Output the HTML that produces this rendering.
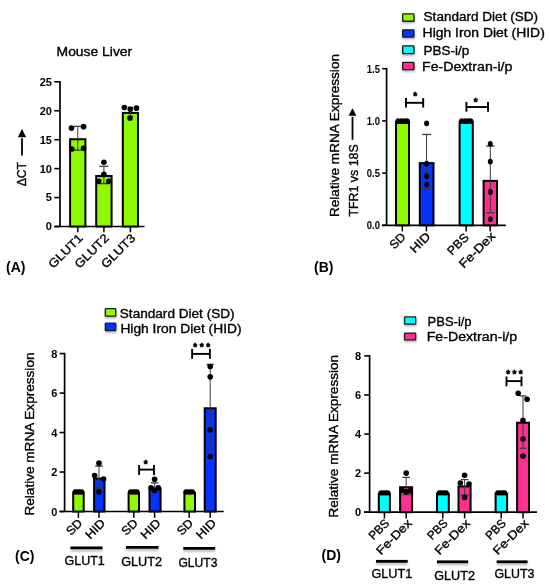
<!DOCTYPE html>
<html><head><meta charset="utf-8"><title>Figure</title>
<style>html,body{margin:0;padding:0;background:#fff;width:550px;height:587px;overflow:hidden}svg{display:block}text{font-family:"Liberation Sans", sans-serif;fill:#000}</style>
</head><body>
<svg width="550" height="587" viewBox="0 0 550 587">
<defs><filter id="blur" x="-30%" y="-30%" width="160%" height="160%"><feGaussianBlur stdDeviation="0.9"/></filter></defs>
<rect width="550" height="587" fill="#fff"/>
<text id="A_title" x="56.6" y="56.4" font-size="13" text-anchor="start" textLength="75.6" lengthAdjust="spacingAndGlyphs" stroke="#000" stroke-width="0.35">Mouse Liver</text>
<line x1="60" y1="81" x2="60" y2="226.5" stroke="#000" stroke-width="1.7" stroke-linecap="butt"/>
<line x1="54.3" y1="226.5" x2="144.5" y2="226.5" stroke="#000" stroke-width="1.7" stroke-linecap="butt"/>
<line x1="54.3" y1="226.5" x2="60" y2="226.5" stroke="#000" stroke-width="1.6" stroke-linecap="butt"/>
<text x="51.9" y="230.4" font-size="11" font-weight="bold" text-anchor="end">0</text>
<line x1="54.3" y1="197.56" x2="60" y2="197.56" stroke="#000" stroke-width="1.6" stroke-linecap="butt"/>
<text x="51.9" y="201.46" font-size="11" font-weight="bold" text-anchor="end">5</text>
<line x1="54.3" y1="168.62" x2="60" y2="168.62" stroke="#000" stroke-width="1.6" stroke-linecap="butt"/>
<text x="51.9" y="172.52" font-size="11" font-weight="bold" text-anchor="end">10</text>
<line x1="54.3" y1="139.68" x2="60" y2="139.68" stroke="#000" stroke-width="1.6" stroke-linecap="butt"/>
<text x="51.9" y="143.58" font-size="11" font-weight="bold" text-anchor="end">15</text>
<line x1="54.3" y1="110.74" x2="60" y2="110.74" stroke="#000" stroke-width="1.6" stroke-linecap="butt"/>
<text x="51.9" y="114.64" font-size="11" font-weight="bold" text-anchor="end">20</text>
<line x1="54.3" y1="81.8" x2="60" y2="81.8" stroke="#000" stroke-width="1.6" stroke-linecap="butt"/>
<text x="51.9" y="85.7" font-size="11" font-weight="bold" text-anchor="end">25</text>
<line x1="77.75" y1="226.5" x2="77.75" y2="232.3" stroke="#000" stroke-width="1.5" stroke-linecap="butt"/>
<line x1="103.9" y1="226.5" x2="103.9" y2="232.3" stroke="#000" stroke-width="1.5" stroke-linecap="butt"/>
<line x1="130.4" y1="226.5" x2="130.4" y2="232.3" stroke="#000" stroke-width="1.5" stroke-linecap="butt"/>
<rect x="70.1" y="139.23" width="15.3" height="87.27" fill="#8EFA00" stroke="#000" stroke-width="2"/>
<rect x="96.2" y="175.99" width="15.4" height="50.51" fill="#8EFA00" stroke="#000" stroke-width="2"/>
<rect x="122.8" y="112.9" width="15.2" height="113.6" fill="#8EFA00" stroke="#000" stroke-width="2"/>
<line x1="77.75" y1="126.37" x2="77.75" y2="150.1" stroke="#3a3a3a" stroke-width="1.0" stroke-linecap="butt"/>
<line x1="73.55" y1="126.37" x2="81.95" y2="126.37" stroke="#3a3a3a" stroke-width="1.3" stroke-linecap="butt"/>
<line x1="73.55" y1="150.1" x2="81.95" y2="150.1" stroke="#3a3a3a" stroke-width="1.3" stroke-linecap="butt"/>
<line x1="103.9" y1="166.3" x2="103.9" y2="183.67" stroke="#3a3a3a" stroke-width="1.0" stroke-linecap="butt"/>
<line x1="99.4" y1="166.3" x2="108.4" y2="166.3" stroke="#3a3a3a" stroke-width="1.3" stroke-linecap="butt"/>
<line x1="99.4" y1="183.67" x2="108.4" y2="183.67" stroke="#3a3a3a" stroke-width="1.3" stroke-linecap="butt"/>
<line x1="130.4" y1="107.27" x2="130.4" y2="116.53" stroke="#3a3a3a" stroke-width="1.0" stroke-linecap="butt"/>
<line x1="127.8" y1="107.27" x2="133" y2="107.27" stroke="#3a3a3a" stroke-width="1.3" stroke-linecap="butt"/>
<line x1="127.8" y1="116.53" x2="133" y2="116.53" stroke="#3a3a3a" stroke-width="1.3" stroke-linecap="butt"/>
<circle cx="71.5" cy="128.1" r="2.8" fill="#000"/>
<circle cx="83.6" cy="126.66" r="2.8" fill="#000"/>
<circle cx="71.8" cy="148.94" r="2.8" fill="#000"/>
<circle cx="83.6" cy="148.36" r="2.8" fill="#000"/>
<circle cx="103.9" cy="162.25" r="2.8" fill="#000"/>
<circle cx="103.9" cy="174.41" r="2.8" fill="#000"/>
<circle cx="98.7" cy="181.35" r="2.8" fill="#000"/>
<circle cx="108.8" cy="181.35" r="2.8" fill="#000"/>
<circle cx="124.3" cy="107.56" r="2.8" fill="#000"/>
<circle cx="136.5" cy="108.14" r="2.8" fill="#000"/>
<circle cx="130.3" cy="109.29" r="2.8" fill="#000"/>
<circle cx="130" cy="117.97" r="2.8" fill="#000"/>
<text id="A_ylab" x="26" y="186.3" font-size="13" text-anchor="start" textLength="24.2" lengthAdjust="spacingAndGlyphs" transform="rotate(-90 26 186.3)" stroke="#000" stroke-width="0.35">ΔCT</text>
<line x1="22" y1="155.5" x2="22" y2="138.2" stroke="#000" stroke-width="1.8" stroke-linecap="butt"/>
<path d="M22 128.8 L26.1 137.2 L17.9 137.2 Z" fill="#000"/>
<text id="A_x1" x="83.6" y="238.8" font-size="12" text-anchor="end" textLength="42.81" lengthAdjust="spacingAndGlyphs" transform="rotate(-45 83.6 238.8)" stroke="#000" stroke-width="0.35">GLUT1</text>
<text x="109.75" y="238.8" font-size="12" text-anchor="end" textLength="42.81" lengthAdjust="spacingAndGlyphs" transform="rotate(-45 109.75 238.8)" stroke="#000" stroke-width="0.35">GLUT2</text>
<text x="136.25" y="238.8" font-size="12" text-anchor="end" textLength="42.81" lengthAdjust="spacingAndGlyphs" transform="rotate(-45 136.25 238.8)" stroke="#000" stroke-width="0.35">GLUT3</text>
<text id="A_lab" x="6.1" y="271.7" font-size="14" font-weight="bold" text-anchor="start">(A)</text>
<rect x="402.3" y="14.8" width="12.6" height="8.7" fill="#000" opacity="0.3" filter="url(#blur)"/>
<rect rx="0.6" x="402.65" y="13.85" width="11.3" height="7.4" fill="#8EFA00" stroke="#1a1a1a" stroke-width="1.3"/>
<text id="B_l1" x="423.6" y="20.5" font-size="12.5" text-anchor="start" textLength="114.4" lengthAdjust="spacingAndGlyphs" stroke="#000" stroke-width="0.35">Standard Diet (SD)</text>
<rect x="402.3" y="30.8" width="12.6" height="8.5" fill="#000" opacity="0.3" filter="url(#blur)"/>
<rect rx="0.6" x="402.65" y="29.85" width="11.3" height="7.2" fill="#0433FF" stroke="#1a1a1a" stroke-width="1.3"/>
<text id="B_l2" x="422.6" y="37.1" font-size="12.5" text-anchor="start" textLength="122.2" lengthAdjust="spacingAndGlyphs" stroke="#000" stroke-width="0.35">High Iron Diet (HID)</text>
<rect x="402.3" y="46.8" width="12.6" height="9" fill="#000" opacity="0.3" filter="url(#blur)"/>
<rect rx="0.6" x="402.65" y="45.85" width="11.3" height="7.7" fill="#00FDFF" stroke="#1a1a1a" stroke-width="1.3"/>
<text id="B_l3" x="423.5" y="55.2" font-size="12.5" text-anchor="start" textLength="45.8" lengthAdjust="spacingAndGlyphs" stroke="#000" stroke-width="0.35">PBS-i/p</text>
<rect x="402.3" y="63.4" width="12.6" height="8.4" fill="#000" opacity="0.3" filter="url(#blur)"/>
<rect rx="0.6" x="402.65" y="62.45" width="11.3" height="7.1" fill="#FF2F92" stroke="#1a1a1a" stroke-width="1.3"/>
<text id="B_l4" x="422" y="71.4" font-size="12.5" text-anchor="start" textLength="90.4" lengthAdjust="spacingAndGlyphs" stroke="#000" stroke-width="0.35">Fe-Dextran-i/p</text>
<line x1="386.6" y1="67.9" x2="386.6" y2="225.3" stroke="#000" stroke-width="1.7" stroke-linecap="butt"/>
<line x1="381.8" y1="225.3" x2="505.8" y2="225.3" stroke="#000" stroke-width="1.7" stroke-linecap="butt"/>
<line x1="382.2" y1="225.3" x2="386.6" y2="225.3" stroke="#000" stroke-width="1.6" stroke-linecap="butt"/>
<text x="380" y="229.4" font-size="11.5" font-weight="bold" text-anchor="end" textLength="13.2" lengthAdjust="spacingAndGlyphs">0.0</text>
<line x1="382.2" y1="173.1" x2="386.6" y2="173.1" stroke="#000" stroke-width="1.6" stroke-linecap="butt"/>
<text x="380" y="177.2" font-size="11.5" font-weight="bold" text-anchor="end" textLength="13.2" lengthAdjust="spacingAndGlyphs">0.5</text>
<line x1="382.2" y1="120.9" x2="386.6" y2="120.9" stroke="#000" stroke-width="1.6" stroke-linecap="butt"/>
<text x="380" y="125" font-size="11.5" font-weight="bold" text-anchor="end" textLength="13.2" lengthAdjust="spacingAndGlyphs">1.0</text>
<line x1="382.2" y1="68.7" x2="386.6" y2="68.7" stroke="#000" stroke-width="1.6" stroke-linecap="butt"/>
<text x="380" y="72.8" font-size="11.5" font-weight="bold" text-anchor="end" textLength="13.2" lengthAdjust="spacingAndGlyphs">1.5</text>
<line x1="402.3" y1="225.3" x2="402.3" y2="231.4" stroke="#000" stroke-width="1.5" stroke-linecap="butt"/>
<line x1="426.4" y1="225.3" x2="426.4" y2="231.4" stroke="#000" stroke-width="1.5" stroke-linecap="butt"/>
<line x1="466.1" y1="225.3" x2="466.1" y2="231.4" stroke="#000" stroke-width="1.5" stroke-linecap="butt"/>
<line x1="490.2" y1="225.3" x2="490.2" y2="231.4" stroke="#000" stroke-width="1.5" stroke-linecap="butt"/>
<rect x="396" y="121.9" width="13" height="103.4" fill="#8EFA00" stroke="#000" stroke-width="2"/>
<rect x="419.8" y="163.14" width="13.7" height="62.16" fill="#0433FF" stroke="#000" stroke-width="2"/>
<rect x="459.6" y="121.9" width="13.2" height="103.4" fill="#00FDFF" stroke="#000" stroke-width="2"/>
<rect x="483.6" y="180.89" width="13.4" height="44.41" fill="#FF2F92" stroke="#000" stroke-width="2"/>
<line x1="426.6" y1="134.47" x2="426.6" y2="188.76" stroke="#3a3a3a" stroke-width="1.0" stroke-linecap="butt"/>
<line x1="422.2" y1="134.47" x2="431" y2="134.47" stroke="#3a3a3a" stroke-width="1.3" stroke-linecap="butt"/>
<line x1="422.2" y1="188.76" x2="431" y2="188.76" stroke="#3a3a3a" stroke-width="1.3" stroke-linecap="butt"/>
<line x1="490.3" y1="145.96" x2="490.3" y2="212.77" stroke="#3a3a3a" stroke-width="1.0" stroke-linecap="butt"/>
<line x1="486.1" y1="145.96" x2="494.5" y2="145.96" stroke="#3a3a3a" stroke-width="1.3" stroke-linecap="butt"/>
<line x1="486.1" y1="212.77" x2="494.5" y2="212.77" stroke="#3a3a3a" stroke-width="1.3" stroke-linecap="butt"/>
<ellipse cx="398" cy="121.2" rx="2.5" ry="2.9" fill="#000"/>
<ellipse cx="401.3" cy="121.2" rx="2.5" ry="2.9" fill="#000"/>
<ellipse cx="404.5" cy="121.2" rx="2.5" ry="2.9" fill="#000"/>
<ellipse cx="407.2" cy="121.2" rx="2.5" ry="2.9" fill="#000"/>
<ellipse cx="461.6" cy="121.2" rx="2.5" ry="2.9" fill="#000"/>
<ellipse cx="464.9" cy="121.2" rx="2.5" ry="2.9" fill="#000"/>
<ellipse cx="468.1" cy="121.2" rx="2.5" ry="2.9" fill="#000"/>
<ellipse cx="470.8" cy="121.2" rx="2.5" ry="2.9" fill="#000"/>
<ellipse cx="426.6" cy="123.3" rx="2.5" ry="2.9" fill="#000"/>
<ellipse cx="426.6" cy="163.7" rx="2.5" ry="2.9" fill="#000"/>
<ellipse cx="426.6" cy="176.23" rx="2.5" ry="2.9" fill="#000"/>
<ellipse cx="426.6" cy="184.58" rx="2.5" ry="2.9" fill="#000"/>
<ellipse cx="490.3" cy="143.87" rx="2.5" ry="2.9" fill="#000"/>
<ellipse cx="490.3" cy="161.62" rx="2.5" ry="2.9" fill="#000"/>
<ellipse cx="490.3" cy="191.89" rx="2.5" ry="2.9" fill="#000"/>
<ellipse cx="490.3" cy="219.04" rx="2.5" ry="2.9" fill="#000"/>
<line x1="406" y1="102.8" x2="423.2" y2="102.8" stroke="#000" stroke-width="1.9" stroke-linecap="butt"/>
<line x1="406" y1="98.1" x2="406" y2="107.6" stroke="#000" stroke-width="1.9" stroke-linecap="butt"/>
<line x1="423.2" y1="98.1" x2="423.2" y2="107.6" stroke="#000" stroke-width="1.9" stroke-linecap="butt"/>
<text x="415.3" y="100.4" font-size="10" font-weight="bold" text-anchor="middle" stroke="#000" stroke-width="0.6">*</text>
<line x1="466.4" y1="107" x2="488" y2="107" stroke="#000" stroke-width="1.9" stroke-linecap="butt"/>
<line x1="466.4" y1="101.9" x2="466.4" y2="111.7" stroke="#000" stroke-width="1.9" stroke-linecap="butt"/>
<line x1="488" y1="101.9" x2="488" y2="111.7" stroke="#000" stroke-width="1.9" stroke-linecap="butt"/>
<text x="475.8" y="105.5" font-size="10" font-weight="bold" text-anchor="middle" stroke="#000" stroke-width="0.6">*</text>
<text id="B_ylab" x="339.3" y="217" font-size="13" text-anchor="start" textLength="163" lengthAdjust="spacingAndGlyphs" transform="rotate(-90 339.3 217)" stroke="#000" stroke-width="0.35">Relative mRNA Expression</text>
<text id="B_ylab2" x="357.8" y="216.5" font-size="13" text-anchor="start" textLength="72.2" lengthAdjust="spacingAndGlyphs" transform="rotate(-90 357.8 216.5)" stroke="#000" stroke-width="0.35">TFR1 vs 18S</text>
<line x1="352.5" y1="139.8" x2="352.5" y2="116.8" stroke="#000" stroke-width="1.8" stroke-linecap="butt"/>
<path d="M352.5 108.2 L356.4 115.8 L348.6 115.8 Z" fill="#000"/>
<text id="B_x1" x="406.5" y="237.6" font-size="12" text-anchor="end" textLength="17.33" lengthAdjust="spacingAndGlyphs" transform="rotate(-45 406.5 237.6)" stroke="#000" stroke-width="0.35">SD</text>
<text id="B_x2" x="431.3" y="237.2" font-size="12" text-anchor="end" textLength="23.56" lengthAdjust="spacingAndGlyphs" transform="rotate(-45 431.3 237.2)" stroke="#000" stroke-width="0.35">HID</text>
<text id="B_x3" x="469.5" y="238.2" font-size="12" text-anchor="end" textLength="24.74" lengthAdjust="spacingAndGlyphs" transform="rotate(-45 469.5 238.2)" stroke="#000" stroke-width="0.35">PBS</text>
<text id="B_x4" x="495.9" y="236.8" font-size="12" text-anchor="end" textLength="45.33" lengthAdjust="spacingAndGlyphs" transform="rotate(-45 495.9 236.8)" stroke="#000" stroke-width="0.35">Fe-Dex</text>
<text id="B_lab" x="314" y="271.5" font-size="14" font-weight="bold" text-anchor="start">(B)</text>
<rect x="105" y="309.6" width="11.7" height="8.7" fill="#000" opacity="0.3" filter="url(#blur)"/>
<rect rx="0.6" x="105.35" y="308.65" width="10.4" height="7.4" fill="#8EFA00" stroke="#1a1a1a" stroke-width="1.3"/>
<text id="C_l1" x="119.8" y="317.8" font-size="12.5" text-anchor="start" textLength="114.8" lengthAdjust="spacingAndGlyphs" stroke="#000" stroke-width="0.35">Standard Diet (SD)</text>
<rect x="105" y="324.1" width="11.7" height="8.8" fill="#000" opacity="0.3" filter="url(#blur)"/>
<rect rx="0.6" x="105.35" y="323.15" width="10.4" height="7.5" fill="#0433FF" stroke="#1a1a1a" stroke-width="1.3"/>
<text id="C_l2" x="120.4" y="332.7" font-size="12.5" text-anchor="start" textLength="121.2" lengthAdjust="spacingAndGlyphs" stroke="#000" stroke-width="0.35">High Iron Diet (HID)</text>
<line x1="64.6" y1="352.78" x2="64.6" y2="511.5" stroke="#000" stroke-width="1.7" stroke-linecap="butt"/>
<line x1="59.4" y1="511.5" x2="223.8" y2="511.5" stroke="#000" stroke-width="1.7" stroke-linecap="butt"/>
<line x1="59.6" y1="511.5" x2="64.6" y2="511.5" stroke="#000" stroke-width="1.6" stroke-linecap="butt"/>
<text x="57.3" y="515.7" font-size="11" font-weight="bold" text-anchor="end">0</text>
<line x1="59.6" y1="472.02" x2="64.6" y2="472.02" stroke="#000" stroke-width="1.6" stroke-linecap="butt"/>
<text x="57.3" y="476.22" font-size="11" font-weight="bold" text-anchor="end">2</text>
<line x1="59.6" y1="432.54" x2="64.6" y2="432.54" stroke="#000" stroke-width="1.6" stroke-linecap="butt"/>
<text x="57.3" y="436.74" font-size="11" font-weight="bold" text-anchor="end">4</text>
<line x1="59.6" y1="393.06" x2="64.6" y2="393.06" stroke="#000" stroke-width="1.6" stroke-linecap="butt"/>
<text x="57.3" y="397.26" font-size="11" font-weight="bold" text-anchor="end">6</text>
<line x1="59.6" y1="353.58" x2="64.6" y2="353.58" stroke="#000" stroke-width="1.6" stroke-linecap="butt"/>
<text x="57.3" y="357.78" font-size="11" font-weight="bold" text-anchor="end">8</text>
<line x1="78.4" y1="511.5" x2="78.4" y2="517.8" stroke="#000" stroke-width="1.5" stroke-linecap="butt"/>
<line x1="99" y1="511.5" x2="99" y2="517.8" stroke="#000" stroke-width="1.5" stroke-linecap="butt"/>
<line x1="133.8" y1="511.5" x2="133.8" y2="517.8" stroke="#000" stroke-width="1.5" stroke-linecap="butt"/>
<line x1="154.6" y1="511.5" x2="154.6" y2="517.8" stroke="#000" stroke-width="1.5" stroke-linecap="butt"/>
<line x1="189.2" y1="511.5" x2="189.2" y2="517.8" stroke="#000" stroke-width="1.5" stroke-linecap="butt"/>
<line x1="210.2" y1="511.5" x2="210.2" y2="517.8" stroke="#000" stroke-width="1.5" stroke-linecap="butt"/>
<rect x="73.2" y="492.76" width="10.5" height="18.74" fill="#8EFA00" stroke="#000" stroke-width="2"/>
<rect x="94.1" y="478.55" width="10.4" height="32.95" fill="#0433FF" stroke="#000" stroke-width="2"/>
<rect x="128.6" y="492.76" width="10.4" height="18.74" fill="#8EFA00" stroke="#000" stroke-width="2"/>
<rect x="149.5" y="488.42" width="11.1" height="23.08" fill="#0433FF" stroke="#000" stroke-width="2"/>
<rect x="184.4" y="492.76" width="10.6" height="18.74" fill="#8EFA00" stroke="#000" stroke-width="2"/>
<rect x="204.7" y="408.27" width="11" height="103.23" fill="#0433FF" stroke="#000" stroke-width="2"/>
<circle cx="75.2" cy="491.96" r="2.6" fill="#000"/>
<circle cx="77.3" cy="491.96" r="2.6" fill="#000"/>
<circle cx="79.5" cy="491.96" r="2.6" fill="#000"/>
<circle cx="81.6" cy="491.96" r="2.6" fill="#000"/>
<circle cx="130.6" cy="491.96" r="2.6" fill="#000"/>
<circle cx="132.7" cy="491.96" r="2.6" fill="#000"/>
<circle cx="134.9" cy="491.96" r="2.6" fill="#000"/>
<circle cx="137" cy="491.96" r="2.6" fill="#000"/>
<circle cx="186" cy="491.96" r="2.6" fill="#000"/>
<circle cx="188.1" cy="491.96" r="2.6" fill="#000"/>
<circle cx="190.3" cy="491.96" r="2.6" fill="#000"/>
<circle cx="192.4" cy="491.96" r="2.6" fill="#000"/>
<line x1="99" y1="466.1" x2="99" y2="488.8" stroke="#3a3a3a" stroke-width="1.0" stroke-linecap="butt"/>
<line x1="95.2" y1="466.1" x2="102.8" y2="466.1" stroke="#3a3a3a" stroke-width="1.3" stroke-linecap="butt"/>
<line x1="95.2" y1="488.8" x2="102.8" y2="488.8" stroke="#3a3a3a" stroke-width="1.3" stroke-linecap="butt"/>
<circle cx="99" cy="463.14" r="2.8" fill="#000"/>
<circle cx="94.6" cy="475.57" r="2.8" fill="#000"/>
<circle cx="103.6" cy="478.93" r="2.8" fill="#000"/>
<circle cx="99" cy="491.76" r="2.8" fill="#000"/>
<line x1="154.6" y1="482.88" x2="154.6" y2="491.76" stroke="#3a3a3a" stroke-width="1.0" stroke-linecap="butt"/>
<line x1="150.8" y1="482.88" x2="158.4" y2="482.88" stroke="#3a3a3a" stroke-width="1.3" stroke-linecap="butt"/>
<line x1="150.8" y1="491.76" x2="158.4" y2="491.76" stroke="#3a3a3a" stroke-width="1.3" stroke-linecap="butt"/>
<circle cx="154.6" cy="479.32" r="2.8" fill="#000"/>
<circle cx="151" cy="487.81" r="2.8" fill="#000"/>
<circle cx="158.2" cy="487.81" r="2.8" fill="#000"/>
<circle cx="154.6" cy="490.77" r="2.8" fill="#000"/>
<line x1="210.2" y1="364.4" x2="210.2" y2="449.52" stroke="#3a3a3a" stroke-width="1.0" stroke-linecap="butt"/>
<line x1="206.6" y1="364.4" x2="213.8" y2="364.4" stroke="#3a3a3a" stroke-width="1.3" stroke-linecap="butt"/>
<line x1="206.6" y1="449.52" x2="213.8" y2="449.52" stroke="#3a3a3a" stroke-width="1.3" stroke-linecap="butt"/>
<circle cx="210.2" cy="366.51" r="2.8" fill="#000"/>
<circle cx="210.2" cy="376.87" r="2.8" fill="#000"/>
<circle cx="210.2" cy="429.78" r="2.8" fill="#000"/>
<circle cx="210.2" cy="456.62" r="2.8" fill="#000"/>
<line x1="139.1" y1="469.6" x2="154" y2="469.6" stroke="#000" stroke-width="1.9" stroke-linecap="butt"/>
<line x1="139.1" y1="465.1" x2="139.1" y2="474.9" stroke="#000" stroke-width="1.9" stroke-linecap="butt"/>
<line x1="154" y1="465.1" x2="154" y2="474.9" stroke="#000" stroke-width="1.9" stroke-linecap="butt"/>
<text x="145.8" y="467.9" font-size="10" font-weight="bold" text-anchor="middle" stroke="#000" stroke-width="0.6">*</text>
<line x1="192.1" y1="353.9" x2="209.9" y2="353.9" stroke="#000" stroke-width="1.9" stroke-linecap="butt"/>
<line x1="192.1" y1="348.9" x2="192.1" y2="358.8" stroke="#000" stroke-width="1.9" stroke-linecap="butt"/>
<line x1="209.9" y1="348.9" x2="209.9" y2="358.8" stroke="#000" stroke-width="1.9" stroke-linecap="butt"/>
<text x="195.2 201.7 208.3" y="350.9" font-size="10" font-weight="bold" text-anchor="middle" stroke="#000" stroke-width="0.6">***</text>
<text id="C_ylab" x="33.7" y="515.5" font-size="13" text-anchor="start" textLength="163" lengthAdjust="spacingAndGlyphs" transform="rotate(-90 33.7 515.5)" stroke="#000" stroke-width="0.35">Relative mRNA Expression</text>
<text id="C_x1" x="83.2" y="523.8" font-size="12" text-anchor="end" textLength="17.33" lengthAdjust="spacingAndGlyphs" transform="rotate(-45 83.2 523.8)" stroke="#000" stroke-width="0.35">SD</text>
<text id="C_x2" x="106" y="523.8" font-size="12" text-anchor="end" textLength="22.43" lengthAdjust="spacingAndGlyphs" transform="rotate(-45 106 523.8)" stroke="#000" stroke-width="0.35">HID</text>
<text x="138.6" y="523.8" font-size="12" text-anchor="end" textLength="17.33" lengthAdjust="spacingAndGlyphs" transform="rotate(-45 138.6 523.8)" stroke="#000" stroke-width="0.35">SD</text>
<text x="161.4" y="523.8" font-size="12" text-anchor="end" textLength="22.43" lengthAdjust="spacingAndGlyphs" transform="rotate(-45 161.4 523.8)" stroke="#000" stroke-width="0.35">HID</text>
<text x="194" y="523.8" font-size="12" text-anchor="end" textLength="17.33" lengthAdjust="spacingAndGlyphs" transform="rotate(-45 194 523.8)" stroke="#000" stroke-width="0.35">SD</text>
<text x="216.8" y="523.8" font-size="12" text-anchor="end" textLength="22.43" lengthAdjust="spacingAndGlyphs" transform="rotate(-45 216.8 523.8)" stroke="#000" stroke-width="0.35">HID</text>
<rect x="70.4" y="548.5" width="32.1" height="3" fill="#000" opacity="0.25" filter="url(#blur)"/>
<line x1="70.4" y1="547.9" x2="102.5" y2="547.9" stroke="#000" stroke-width="2.8" stroke-linecap="butt"/>
<rect x="126" y="548" width="32.5" height="3" fill="#000" opacity="0.25" filter="url(#blur)"/>
<line x1="126" y1="547.4" x2="158.5" y2="547.4" stroke="#000" stroke-width="2.8" stroke-linecap="butt"/>
<rect x="183.3" y="548.9" width="31.9" height="3" fill="#000" opacity="0.25" filter="url(#blur)"/>
<line x1="183.3" y1="548.3" x2="215.2" y2="548.3" stroke="#000" stroke-width="2.8" stroke-linecap="butt"/>
<text id="C_g1" x="64.6" y="564.5" font-size="12.5" text-anchor="start" textLength="40.2" lengthAdjust="spacingAndGlyphs" stroke="#000" stroke-width="0.35">GLUT1</text>
<text id="C_g2" x="121.2" y="565.6" font-size="12.5" text-anchor="start" textLength="40.8" lengthAdjust="spacingAndGlyphs" stroke="#000" stroke-width="0.35">GLUT2</text>
<text id="C_g3" x="178.4" y="567.2" font-size="12.5" text-anchor="start" textLength="39" lengthAdjust="spacingAndGlyphs" stroke="#000" stroke-width="0.35">GLUT3</text>
<text id="C_lab" x="15" y="560.7" font-size="14" font-weight="bold" text-anchor="start">(C)</text>
<rect x="404.2" y="317.9" width="12.4" height="8.4" fill="#000" opacity="0.3" filter="url(#blur)"/>
<rect rx="0.6" x="404.55" y="316.95" width="11.1" height="7.1" fill="#00FDFF" stroke="#1a1a1a" stroke-width="1.3"/>
<text id="D_l1" x="427.6" y="326.4" font-size="12.5" text-anchor="start" textLength="44" lengthAdjust="spacingAndGlyphs" stroke="#000" stroke-width="0.35">PBS-i/p</text>
<rect x="404.2" y="334" width="12.4" height="8.1" fill="#000" opacity="0.3" filter="url(#blur)"/>
<rect rx="0.6" x="404.55" y="333.05" width="11.1" height="6.8" fill="#FF2F92" stroke="#1a1a1a" stroke-width="1.3"/>
<text id="D_l2" x="426.7" y="340.5" font-size="12.5" text-anchor="start" textLength="90.5" lengthAdjust="spacingAndGlyphs" stroke="#000" stroke-width="0.35">Fe-Dextran-i/p</text>
<line x1="369.6" y1="355.08" x2="369.6" y2="512.2" stroke="#000" stroke-width="1.7" stroke-linecap="butt"/>
<line x1="364" y1="512.2" x2="537" y2="512.2" stroke="#000" stroke-width="1.7" stroke-linecap="butt"/>
<line x1="364.2" y1="512.2" x2="369.6" y2="512.2" stroke="#000" stroke-width="1.6" stroke-linecap="butt"/>
<text x="361" y="516.2" font-size="11" font-weight="bold" text-anchor="end">0</text>
<line x1="364.2" y1="473.12" x2="369.6" y2="473.12" stroke="#000" stroke-width="1.6" stroke-linecap="butt"/>
<text x="361" y="477.12" font-size="11" font-weight="bold" text-anchor="end">2</text>
<line x1="364.2" y1="434.04" x2="369.6" y2="434.04" stroke="#000" stroke-width="1.6" stroke-linecap="butt"/>
<text x="361" y="438.04" font-size="11" font-weight="bold" text-anchor="end">4</text>
<line x1="364.2" y1="394.96" x2="369.6" y2="394.96" stroke="#000" stroke-width="1.6" stroke-linecap="butt"/>
<text x="361" y="398.96" font-size="11" font-weight="bold" text-anchor="end">6</text>
<line x1="364.2" y1="355.88" x2="369.6" y2="355.88" stroke="#000" stroke-width="1.6" stroke-linecap="butt"/>
<text x="361" y="359.88" font-size="11" font-weight="bold" text-anchor="end">8</text>
<line x1="384.4" y1="512.2" x2="384.4" y2="518.4" stroke="#000" stroke-width="1.5" stroke-linecap="butt"/>
<line x1="406.2" y1="512.2" x2="406.2" y2="518.4" stroke="#000" stroke-width="1.5" stroke-linecap="butt"/>
<line x1="442.8" y1="512.2" x2="442.8" y2="518.4" stroke="#000" stroke-width="1.5" stroke-linecap="butt"/>
<line x1="464.6" y1="512.2" x2="464.6" y2="518.4" stroke="#000" stroke-width="1.5" stroke-linecap="butt"/>
<line x1="501.2" y1="512.2" x2="501.2" y2="518.4" stroke="#000" stroke-width="1.5" stroke-linecap="butt"/>
<line x1="523" y1="512.2" x2="523" y2="518.4" stroke="#000" stroke-width="1.5" stroke-linecap="butt"/>
<rect x="378.8" y="493.66" width="11.1" height="18.54" fill="#00FDFF" stroke="#000" stroke-width="2"/>
<rect x="400.1" y="487.21" width="12" height="24.99" fill="#FF2F92" stroke="#000" stroke-width="2"/>
<rect x="437" y="493.66" width="11.8" height="18.54" fill="#00FDFF" stroke="#000" stroke-width="2"/>
<rect x="458.5" y="486.43" width="12.1" height="25.77" fill="#FF2F92" stroke="#000" stroke-width="2"/>
<rect x="495.6" y="493.66" width="11.5" height="18.54" fill="#00FDFF" stroke="#000" stroke-width="2"/>
<rect x="517.1" y="422.73" width="11.9" height="89.47" fill="#FF2F92" stroke="#000" stroke-width="2"/>
<circle cx="381" cy="492.86" r="2.6" fill="#000"/>
<circle cx="383.2" cy="492.86" r="2.6" fill="#000"/>
<circle cx="385.6" cy="492.86" r="2.6" fill="#000"/>
<circle cx="387.8" cy="492.86" r="2.6" fill="#000"/>
<circle cx="439.4" cy="492.86" r="2.6" fill="#000"/>
<circle cx="441.6" cy="492.86" r="2.6" fill="#000"/>
<circle cx="444" cy="492.86" r="2.6" fill="#000"/>
<circle cx="446.2" cy="492.86" r="2.6" fill="#000"/>
<circle cx="497.8" cy="492.86" r="2.6" fill="#000"/>
<circle cx="500" cy="492.86" r="2.6" fill="#000"/>
<circle cx="502.4" cy="492.86" r="2.6" fill="#000"/>
<circle cx="504.6" cy="492.86" r="2.6" fill="#000"/>
<line x1="406.2" y1="477.42" x2="406.2" y2="494.61" stroke="#3a3a3a" stroke-width="1.0" stroke-linecap="butt"/>
<line x1="402.4" y1="477.42" x2="410" y2="477.42" stroke="#3a3a3a" stroke-width="1.3" stroke-linecap="butt"/>
<line x1="402.4" y1="494.61" x2="410" y2="494.61" stroke="#3a3a3a" stroke-width="1.3" stroke-linecap="butt"/>
<circle cx="406.2" cy="473.12" r="2.8" fill="#000"/>
<circle cx="402" cy="490.32" r="2.8" fill="#000"/>
<circle cx="406.2" cy="491.68" r="2.8" fill="#000"/>
<circle cx="410.2" cy="490.71" r="2.8" fill="#000"/>
<line x1="464.6" y1="479.57" x2="464.6" y2="495" stroke="#3a3a3a" stroke-width="1.0" stroke-linecap="butt"/>
<line x1="460.8" y1="479.57" x2="468.4" y2="479.57" stroke="#3a3a3a" stroke-width="1.3" stroke-linecap="butt"/>
<line x1="460.8" y1="495" x2="468.4" y2="495" stroke="#3a3a3a" stroke-width="1.3" stroke-linecap="butt"/>
<circle cx="464.6" cy="475.27" r="2.8" fill="#000"/>
<circle cx="460.3" cy="483.09" r="2.8" fill="#000"/>
<circle cx="469" cy="484.06" r="2.8" fill="#000"/>
<circle cx="464.6" cy="497.55" r="2.8" fill="#000"/>
<line x1="523" y1="395.94" x2="523" y2="448.3" stroke="#3a3a3a" stroke-width="1.0" stroke-linecap="butt"/>
<line x1="519.4" y1="395.94" x2="526.6" y2="395.94" stroke="#3a3a3a" stroke-width="1.3" stroke-linecap="butt"/>
<line x1="519.4" y1="448.3" x2="526.6" y2="448.3" stroke="#3a3a3a" stroke-width="1.3" stroke-linecap="butt"/>
<circle cx="518.2" cy="393.2" r="2.8" fill="#000"/>
<circle cx="527.1" cy="399.26" r="2.8" fill="#000"/>
<circle cx="523" cy="420.36" r="2.8" fill="#000"/>
<circle cx="523" cy="438.93" r="2.8" fill="#000"/>
<circle cx="523" cy="456.12" r="2.8" fill="#000"/>
<line x1="506.5" y1="381.1" x2="521.5" y2="381.1" stroke="#000" stroke-width="1.9" stroke-linecap="butt"/>
<line x1="506.5" y1="376.5" x2="506.5" y2="386.3" stroke="#000" stroke-width="1.9" stroke-linecap="butt"/>
<line x1="521.5" y1="376.5" x2="521.5" y2="386.3" stroke="#000" stroke-width="1.9" stroke-linecap="butt"/>
<text x="508.2 514.5 520.7" y="378" font-size="10" font-weight="bold" text-anchor="middle" stroke="#000" stroke-width="0.6">***</text>
<text id="D_ylab" x="338.4" y="517.5" font-size="13" text-anchor="start" textLength="162.5" lengthAdjust="spacingAndGlyphs" transform="rotate(-90 338.4 517.5)" stroke="#000" stroke-width="0.35">Relative mRNA Expression</text>
<text id="D_x1" x="390" y="524" font-size="12" text-anchor="end" textLength="23.33" lengthAdjust="spacingAndGlyphs" transform="rotate(-45 390 524)" stroke="#000" stroke-width="0.35">PBS</text>
<text id="D_x2" x="412.5" y="524" font-size="12" text-anchor="end" textLength="44.49" lengthAdjust="spacingAndGlyphs" transform="rotate(-45 412.5 524)" stroke="#000" stroke-width="0.35">Fe-Dex</text>
<text x="448.4" y="524" font-size="12" text-anchor="end" textLength="23.33" lengthAdjust="spacingAndGlyphs" transform="rotate(-45 448.4 524)" stroke="#000" stroke-width="0.35">PBS</text>
<text x="470.9" y="524" font-size="12" text-anchor="end" textLength="44.49" lengthAdjust="spacingAndGlyphs" transform="rotate(-45 470.9 524)" stroke="#000" stroke-width="0.35">Fe-Dex</text>
<text x="506.8" y="524" font-size="12" text-anchor="end" textLength="23.33" lengthAdjust="spacingAndGlyphs" transform="rotate(-45 506.8 524)" stroke="#000" stroke-width="0.35">PBS</text>
<text x="529.3" y="524" font-size="12" text-anchor="end" textLength="44.49" lengthAdjust="spacingAndGlyphs" transform="rotate(-45 529.3 524)" stroke="#000" stroke-width="0.35">Fe-Dex</text>
<rect x="376" y="561.9" width="31.7" height="3" fill="#000" opacity="0.25" filter="url(#blur)"/>
<line x1="376" y1="561.3" x2="407.7" y2="561.3" stroke="#000" stroke-width="2.8" stroke-linecap="butt"/>
<rect x="437" y="562.4" width="31.2" height="3" fill="#000" opacity="0.25" filter="url(#blur)"/>
<line x1="437" y1="561.8" x2="468.2" y2="561.8" stroke="#000" stroke-width="2.8" stroke-linecap="butt"/>
<rect x="496.6" y="562.4" width="31" height="3" fill="#000" opacity="0.25" filter="url(#blur)"/>
<line x1="496.6" y1="561.8" x2="527.6" y2="561.8" stroke="#000" stroke-width="2.8" stroke-linecap="butt"/>
<text id="D_g1" x="371.4" y="578.4" font-size="12.5" text-anchor="start" textLength="41" lengthAdjust="spacingAndGlyphs" stroke="#000" stroke-width="0.35">GLUT1</text>
<text id="D_g2" x="434.3" y="580.4" font-size="12.5" text-anchor="start" textLength="40.6" lengthAdjust="spacingAndGlyphs" stroke="#000" stroke-width="0.35">GLUT2</text>
<text id="D_g3" x="494.4" y="578.2" font-size="12.5" text-anchor="start" textLength="40" lengthAdjust="spacingAndGlyphs" stroke="#000" stroke-width="0.35">GLUT3</text>
<text id="D_lab" x="321.6" y="560.2" font-size="14" font-weight="bold" text-anchor="start">(D)</text>
</svg>
</body></html>
